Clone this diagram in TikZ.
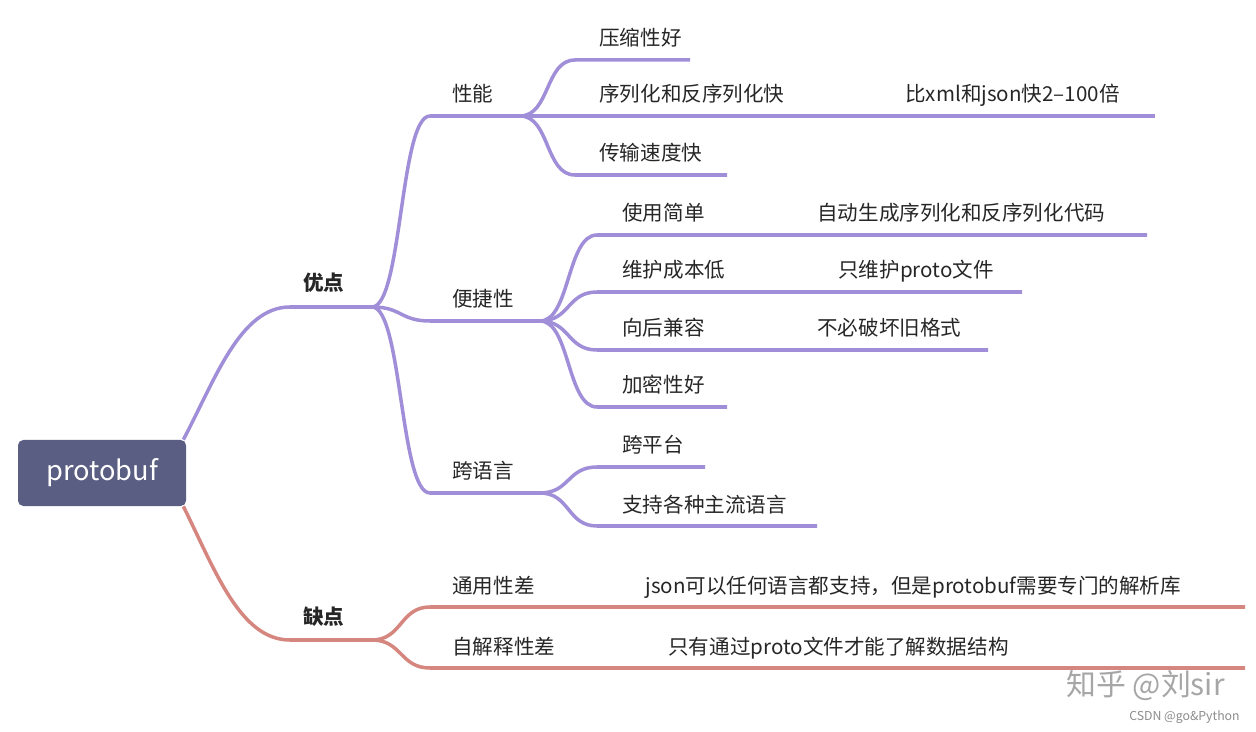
\documentclass[tikz,border=0pt]{standalone}
\usepackage{fontspec}
\setmainfont{Noto Sans CJK SC}
\begin{document}
\begin{tikzpicture}[x=0.02cm,y=-0.02cm,
  pu/.style={draw=purp,line width=2pt},
  rd/.style={draw=redc,line width=2pt},
  lbl/.style={anchor=base west,inner sep=0,font=\fontsize{11.7pt}{13pt}\selectfont,text=black!85},
  br/.style={to path={.. controls +(30,0) and +(-30,0) .. (\tikztotarget)}}]
\definecolor{purp}{HTML}{A08FD8}
\definecolor{redc}{HTML}{D4867F}
\definecolor{rootc}{HTML}{5A5E82}
\useasboundingbox (0,0) rectangle (1256,732);
% root
\node[fill=rootc,rounded corners=3pt,minimum width=168*0.02cm,minimum height=66*0.02cm,text=white,font=\fontsize{15.5pt}{17pt}\selectfont] (root) at (102,473) {protobuf};
% level 1
\coordinate (y1a) at (290,307); \coordinate (y1b) at (372,307);
\coordinate (q1a) at (290,640); \coordinate (q1b) at (372,640);
\draw[pu] (root.north east) ++(-3,0) coordinate (r1) .. controls (215,380) and (240,307) .. (y1a) -- (y1b);
\draw[rd] (root.south east) ++(-3,0) coordinate (r2) .. controls (215,570) and (240,640) .. (q1a) -- (q1b);
\node[lbl,font=\fontsize{11.7pt}{13pt}\selectfont\bfseries] (yd) at (303,291) {优点};
\node[lbl,font=\fontsize{11.7pt}{13pt}\selectfont\bfseries] (qd) at (303,624) {缺点};
% level 2
\foreach \n/\y/\t/\e in {xn/116/性能/520, bj/321/便捷性/540, ky/493/跨语言/540}{
  \coordinate (\n a) at (430,\y); \coordinate (\n b) at (\e,\y);
  \draw[pu] (y1b) to[br] (\n a) -- (\n b);
  \node[lbl] (\n t) at (452,\y-14) {\t};
}
\foreach \n/\y/\t/\e in {ty/607/通用性差/1245, zj/668/自解释性差/1245}{
  \coordinate (\n a) at (430,\y); \coordinate (\n b) at (\e,\y);
  \draw[rd] (q1b) to[br] (\n a) -- (\n b);
  \node[lbl] (\n t) at (452,\y-14) {\t};
}
\node[lbl] (tyx) at (645,593) {json可以任何语言都支持，但是protobuf需要专门的解析库};
\node[lbl] (zjx) at (668,654) {只有通过proto文件才能了解数据结构};
% level 3 - 性能
\foreach \n/\y/\t/\e in {ys/60/压缩性好/690, xl/116/序列化和反序列化快/1155, cs/175/传输速度快/727}{
  \coordinate (\n a) at (575,\y); \coordinate (\n b) at (\e,\y);
  \draw[pu] (xnb) to[br] (\n a) -- (\n b);
  \node[lbl] (\n t) at (599,\y-14) {\t};
}
\node[lbl] (xlx) at (905,102) {比xml和json快2–100倍};
% 便捷性
\foreach \n/\y/\t/\e in {sy/235/使用简单/1147, wh/292/维护成本低/1022, xh/350/向后兼容/988, jm/407/加密性好/727}{
  \coordinate (\n a) at (597,\y); \coordinate (\n b) at (\e,\y);
  \draw[pu] (bjb) to[br] (\n a) -- (\n b);
  \node[lbl] (\n t) at (622,\y-14) {\t};
}
\node[lbl] (syx) at (817,221) {自动生成序列化和反序列化代码};
\node[lbl] (whx) at (838,278) {只维护proto文件};
\node[lbl] (xhx) at (817,336) {不必破坏旧格式};
% 跨语言
\foreach \n/\y/\t/\e in {pt/467/跨平台/705, zc/526/支持各种主流语言/817}{
  \coordinate (\n a) at (597,\y); \coordinate (\n b) at (\e,\y);
  \draw[pu] (kyb) to[br] (\n a) -- (\n b);
  \node[lbl] (\n t) at (622,\y-14) {\t};
}
% watermarks
\node[anchor=base east,inner sep=0,text=black!35,font=\fontsize{17pt}{19pt}\selectfont] (wm) at (1225,695) {知乎 @刘sir};
\node[anchor=base east,inner sep=0,text=black!45,font=\fontsize{7pt}{8pt}\selectfont] (cs) at (1240,720) {CSDN @go\&Python};
\end{tikzpicture}
\end{document}
